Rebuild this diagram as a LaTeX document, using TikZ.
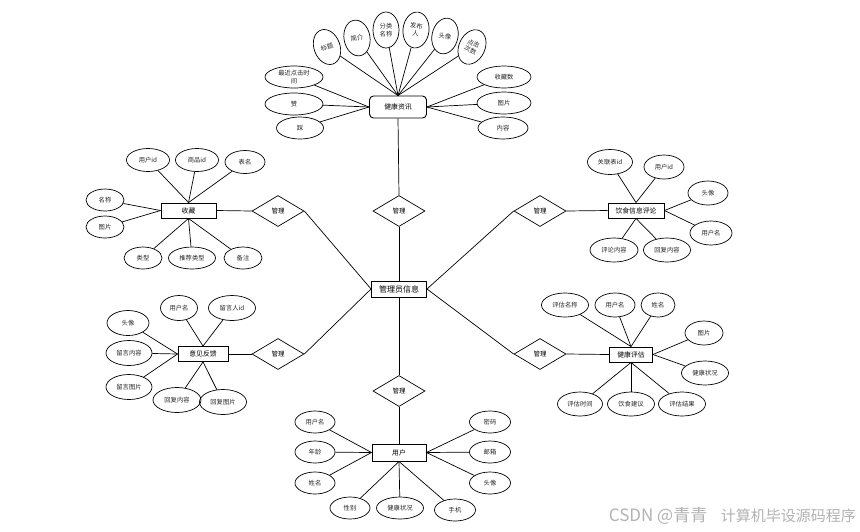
\documentclass[tikz,border=0pt]{standalone}
\usepackage{fontspec}
\setmainfont{Noto Sans CJK SC}
\usetikzlibrary{shapes.geometric}
\tikzset{
  attr/.style={ellipse, draw, line width=0.7pt, inner sep=0pt, align=center,
    font=\fontsize{6.3}{7.6}\selectfont, text=black!85},
  ent/.style={rectangle, draw, line width=0.9pt, inner sep=0pt,
    font=\fontsize{6.8}{8}\selectfont},
  rel/.style={diamond, draw, line width=0.7pt, inner sep=0pt,
    minimum width=52pt, minimum height=31pt, font=\fontsize{6.5}{7}\selectfont},
  link/.style={line width=0.7pt},
}
\newcommand{\at}[6][0]{\node[attr, rotate=#1, minimum width=#5pt, minimum height=#6pt] (#2) at #3 {#4};}
\begin{document}
\begin{tikzpicture}[x=1pt,y=-1pt]
\useasboundingbox (0,0) rectangle (860,531);

% central
\node[ent, minimum width=55pt, minimum height=16pt, font=\fontsize{8}{9}\selectfont] (admin) at (399,289) {管理员信息};

% ---- 健康资讯
\node[ent, rounded corners=4pt, minimum width=57pt, minimum height=22pt] (zx) at (398,107) {健康资讯};
\at[20]{a1}{(327,47)}{标题}{26}{36}
\at[10]{a2}{(357,38)}{简介}{26}{36}
\at[0]{a3}{(386,30)}{分类\\名称}{26}{36}
\at[-6]{a4}{(416,30)}{发布\\人}{26}{36}
\at[-12]{a5}{(445,36)}{头像}{26}{36}
\at[-25]{a6}{(472,47)}{点击\\次数}{26}{36}
\at{a7}{(294,77)}{最近点击时\\间}{58}{22}
\at{a8}{(294,104)}{赞}{58}{22}
\at{a9}{(300,128)}{踩}{47}{22}
\at{a10}{(504,77)}{收藏数}{54}{22}
\at{a11}{(504,103)}{图片}{54}{22}
\at{a12}{(503,128)}{内容}{50}{22}
\foreach \n in {a1,a2,a3,a4,a5,a6} \draw[link] (zx.north) -- (\n);
\foreach \n in {a7,a8,a9} \draw[link] (zx.west) -- (\n);
\foreach \n in {a10,a11,a12} \draw[link] (zx.east) -- (\n);
\node[rel] (d1) at (399,211) {管理};
\draw[link] (zx.south) -- (d1.north);
\draw[link] (d1.south) -- (admin.north);

% ---- 收藏
\node[ent, minimum width=55pt, minimum height=15pt] (sc) at (188.5,210.5) {收藏};
\at{b1}{(148,160)}{用户id}{43}{23}
\at{b2}{(197,160)}{商品id}{43}{23}
\at{b3}{(245,162)}{表名}{40}{23}
\at{b4}{(105,200)}{名称}{38}{22}
\at{b5}{(105,227)}{图片}{38}{22}
\at{b6}{(143,258)}{类型}{38}{22}
\at{b7}{(192,258)}{推荐类型}{47}{22}
\at{b8}{(243,258)}{备注}{38}{22}
\foreach \n in {b1,b2,b3} \draw[link] (sc.north) -- (\n);
\foreach \n in {b4,b5} \draw[link] (sc.west) -- (\n);
\foreach \n in {b6,b7,b8} \draw[link] (sc.south) -- (\n);
\node[rel] (d2) at (278,211) {管理};
\draw[link] (sc.east) -- (d2.west);
\draw[link] (d2.east) -- (admin.west);

% ---- 饮食信息评论
\node[ent, minimum width=56pt, minimum height=15pt] (ys) at (636,210.5) {饮食信息评论};
\at{c1}{(610,162)}{关联表id}{45}{25}
\at{c2}{(664,167)}{用户id}{40}{24}
\at{c3}{(708,193)}{头像}{40}{24}
\at{c4}{(711,233)}{用户名}{42}{24}
\at{c5}{(614,250)}{评论内容}{48}{24}
\at{c6}{(667,250)}{回复内容}{47}{24}
\foreach \n in {c1,c2} \draw[link] (ys.north) -- (\n);
\foreach \n in {c3,c4} \draw[link] (ys.east) -- (\n);
\foreach \n in {c5,c6} \draw[link] (ys.south) -- (\n);
\node[rel] (d3) at (540,211) {管理};
\draw[link] (admin.east) -- (d3.west);
\draw[link] (d3.east) -- (ys.west);

% ---- 意见反馈
\node[ent, minimum width=50pt, minimum height=15pt] (yj) at (203,354) {意见反馈};
\at{e1}{(179,308)}{用户名}{37}{25}
\at{e2}{(232,308)}{留言人id}{47}{25}
\at{e3}{(128,323)}{头像}{42}{25}
\at{e4}{(129,353)}{留言内容}{46}{25}
\at{e5}{(129,387)}{留言图片}{46}{25}
\at{e6}{(177,400)}{回复内容}{48}{25}
\at{e7}{(223,402)}{回复图片}{47}{25}
\foreach \n in {e1,e2} \draw[link] (yj.north) -- (\n);
\foreach \n in {e3,e4,e5} \draw[link] (yj.west) -- (\n);
\foreach \n in {e6,e7} \draw[link] (yj.south) -- (\n);
\node[rel] (d4) at (278,354) {管理};
\draw[link] (yj.east) -- (d4.west);
\draw[link] (d4.east) -- (admin.west);

% ---- 健康评估
\node[ent, minimum width=43pt, minimum height=15pt] (pg) at (631,354.5) {健康评估};
\at{f1}{(565,305)}{评估名称}{47}{24}
\at{f2}{(615,305)}{用户名}{40}{24}
\at{f3}{(658,305)}{姓名}{34}{24}
\at{f4}{(704,333)}{图片}{38}{24}
\at{f5}{(705,373)}{健康状况}{47}{24}
\at{f6}{(580,404)}{评估时间}{45}{24}
\at{f7}{(631,404)}{饮食建议}{47}{24}
\at{f8}{(682,404)}{评估结果}{47}{24}
\foreach \n in {f1,f2,f3} \draw[link] (pg.north) -- (\n);
\foreach \n in {f4,f5} \draw[link] (pg.east) -- (\n);
\foreach \n in {f6,f7,f8} \draw[link] (pg.south) -- (\n);
\node[rel] (d5) at (540,354) {管理};
\draw[link] (admin.east) -- (d5.west);
\draw[link] (d5.east) -- (pg.west);

% ---- 用户
\node[rel] (d6) at (399,391) {管理};
\node[ent, minimum width=54pt, minimum height=17pt] (yh) at (399,452.5) {用户};
\draw[link] (admin.south) -- (d6.north);
\draw[link] (d6.south) -- (yh.north);
\at{g1}{(315,422)}{用户名}{40}{22}
\at{g2}{(315,452)}{年龄}{40}{22}
\at{g3}{(315,483)}{姓名}{40}{22}
\at{g4}{(350,508)}{性别}{40}{22}
\at{g5}{(400,508)}{健康状况}{47}{22}
\at{g6}{(455,510)}{手机}{41}{22}
\at{g7}{(490,422)}{密码}{41}{22}
\at{g8}{(490,452)}{邮箱}{41}{22}
\at{g9}{(490,483)}{头像}{41}{22}
\foreach \n in {g1,g2,g3} \draw[link] (yh.west) -- (\n);
\foreach \n in {g4,g5,g6} \draw[link] (yh.south) -- (\n);
\foreach \n in {g7,g8,g9} \draw[link] (yh.east) -- (\n);

% watermark
\node[anchor=east, inner sep=0pt, text=black!30, font=\fontsize{15}{16}\selectfont] (wm) at (856,516) {{\fontsize{17}{18}\selectfont CSDN @青青}\hspace{0.9em}计算机毕设源码程序};
\end{tikzpicture}
\end{document}
